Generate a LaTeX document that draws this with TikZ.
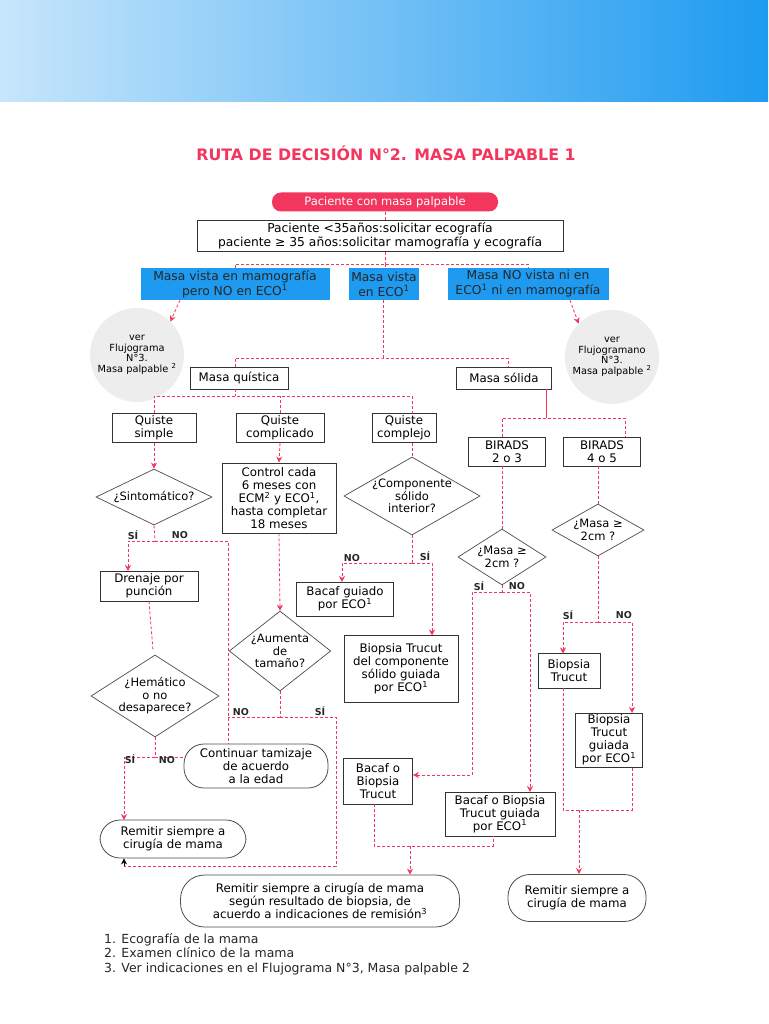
\documentclass[tikz,border=0pt]{standalone}
\usepackage{fontspec}
\setmainfont{DejaVu Sans}
\usetikzlibrary{shapes.geometric,arrows.meta}
\definecolor{pk}{HTML}{F2365E}
\definecolor{bl}{HTML}{1E9BF0}
\definecolor{gr}{HTML}{EDEDED}
\tikzset{
 box/.style={draw=black!80,line width=0.9pt,fill=white,align=center,inner sep=1pt,font=\fontsize{11.8}{13}\selectfont},
 blue/.style={fill=bl,align=center,inner sep=1pt,text=black!85,font=\fontsize{12.3}{15}\selectfont},
 pill/.style={draw=black!70,line width=0.8pt,fill=white,rounded corners=20pt,align=center,inner sep=1pt,font=\fontsize{11.8}{13}\selectfont},
 dia/.style={draw=black!70,line width=0.7pt,fill=white,diamond,aspect=2,align=center,inner sep=-4pt,font=\fontsize{11.5}{12.5}\selectfont},
 circ/.style={circle,fill=gr,align=center,inner sep=0pt,minimum size=94pt,font=\fontsize{9.8}{10.5}\selectfont},
 ln/.style={draw=pk,dashed,line width=0.8pt,dash pattern=on 3pt off 2pt},
 ar/.style={ln,-{Stealth[length=6pt,width=6pt]}},
 lab/.style={font=\bfseries\fontsize{9.5}{10}\selectfont,text=black!85}
}
\begin{document}
\begin{tikzpicture}[x=1pt,y=-1pt]
\useasboundingbox (0,0) rectangle (768,1024);
\shade[left color=bl!25,right color=bl] (0,0) rectangle (768,102);
\node[font=\bfseries\fontsize{15.8}{18}\selectfont,text=pk] (t) at (386,153) {RUTA DE DECISIÓN N°2. MASA PALPABLE 1};

\node[pill,draw=none,fill=pk,text=white,minimum width=226pt,minimum height=19pt,rounded corners=9pt,font=\fontsize{11.5}{13}\selectfont] (p) at (385,202) {Paciente con masa palpable};
\node[box,minimum width=366pt,minimum height=31pt,font=\fontsize{12.3}{14.5}\selectfont] (b2) at (380,236) {Paciente <35años:solicitar ecografía\\paciente ≥ 35 años:solicitar mamografía y ecografía};
\node[blue,minimum width=189pt,minimum height=32pt] (m1) at (235,284) {Masa vista en mamografía\\pero NO en ECO\textsuperscript{1}};
\node[blue,minimum width=70pt,minimum height=32pt] (m2) at (384,284) {Masa vista\\en ECO\textsuperscript{1}};
\node[blue,minimum width=161pt,minimum height=32pt] (m3) at (528,284) {Masa NO vista ni en\\ECO\textsuperscript{1} ni en mamografía};
\node[circ] (c1) at (137,355) {ver\\Flujograma\\N°3.\\Masa palpable \textsuperscript{2}};
\node[circ] (c2) at (612,357) {ver\\Flujogramano\\N°3.\\Masa palpable \textsuperscript{2}};

\node[box,minimum width=98pt,minimum height=22pt] (mq) at (239,378) {Masa quística};
\node[box,minimum width=95pt,minimum height=22pt] (ms) at (504,378) {Masa sólida};
\node[box,minimum width=84pt,minimum height=29pt] (qs) at (154,428) {Quiste\\simple};
\node[box,minimum width=88pt,minimum height=29pt] (qc) at (280,428) {Quiste\\complicado};
\node[box,minimum width=64pt,minimum height=29pt] (qx) at (404,428) {Quiste\\complejo};
\node[box,minimum width=77pt,minimum height=29pt] (b23) at (507,452) {BIRADS\\2 o 3};
\node[box,minimum width=77pt,minimum height=29pt] (b45) at (602,452) {BIRADS\\4 o 5};

\node[dia,minimum width=116pt,minimum height=56pt] (sin) at (154,497) {¿Sintomático?};
\node[box,minimum width=114pt,minimum height=70pt] (ctl) at (279,498) {Control cada\\6 meses con\\ECM\textsuperscript{2} y ECO\textsuperscript{1},\\hasta completar\\18 meses};
\node[dia,minimum width=136pt,minimum height=78pt] (cmp) at (412,496) {¿Componente\\sólido\\interior?};
\node[dia,minimum width=88pt,minimum height=56pt] (d23) at (502,557) {¿Masa ≥\\2cm ?};
\node[dia,minimum width=92pt,minimum height=52pt] (d45) at (598,530) {¿Masa ≥\\2cm ?};

\node[box,minimum width=98pt,minimum height=30pt] (dre) at (149,586) {Drenaje por\\punción};
\node[box,minimum width=97pt,minimum height=34pt] (bg) at (345,599) {Bacaf guiado\\por ECO\textsuperscript{1}};
\node[box,minimum width=114pt,minimum height=67pt] (bt) at (401,669) {Biopsia Trucut\\del componente\\sólido guiada\\por ECO\textsuperscript{1}};
\node[dia,minimum width=94pt,minimum height=80pt] (aum) at (280,651) {¿Aumenta\\de\\tamaño?};
\node[dia,minimum width=128pt,minimum height=82pt] (hem) at (155,696) {¿Hemático\\o no\\desaparece?};
\node[box,minimum width=62pt,minimum height=35pt] (btr) at (569,671) {Biopsia\\Trucut};
\node[box,minimum width=67pt,minimum height=54pt] (btg) at (609,740) {Biopsia\\Trucut\\guiada\\por ECO\textsuperscript{1}};
\node[pill,minimum width=144pt,minimum height=44pt] (cont) at (256,766) {Continuar tamizaje\\de acuerdo\\a la edad};
\node[box,minimum width=69pt,minimum height=46pt] (bo) at (378,781) {Bacaf o\\Biopsia\\Trucut};
\node[box,minimum width=110pt,minimum height=44pt] (bog) at (500,814) {Bacaf o Biopsia\\Trucut guiada\\por ECO\textsuperscript{1}};
\node[pill,minimum width=146pt,minimum height=38pt] (r1) at (173,839) {Remitir siempre a\\cirugía de mama};
\node[pill,minimum width=279pt,minimum height=52pt,rounded corners=24pt] (r2) at (320,901) {Remitir siempre a cirugía de mama\\según resultado de biopsia, de\\acuerdo a indicaciones de remisión\textsuperscript{3}};
\node[pill,minimum width=138pt,minimum height=47pt,rounded corners=22pt] (r3) at (577,898) {Remitir siempre a\\cirugía de mama};

\node[anchor=north west,align=left,inner sep=0pt,font=\fontsize{12.5}{14.5}\selectfont,text=black!85] (fn) at (104,933) {1. Ecografía de la mama\\2. Examen clínico de la mama\\3. Ver indicaciones en el Flujograma N°3, Masa palpable 2};

% connectors
\draw[ln] (p.south) -- (p.south |- b2.north);
\draw[ln] (b2.south -| p.south) -- ++(0,12) coordinate (j1);
\draw[ln] (m1.north) |- (j1) -| (m3.north);
\draw[ln] (j1) -- (j1 |- m2.north);
\draw[ar] ([xshift=-55pt]m1.south) -- (c1.45);
\draw[ar] ([xshift=42pt]m3.south) -- (c2.135);
\coordinate (j2) at (383,358);
\draw[ln] (m2.south -| j2) -- (j2);
\draw[ln] (235,367) |- (j2) -| (508,367);
\coordinate (j3) at (235,396);
\draw[ln] (mq.south -| j3) -- (j3);
\draw[ln] (qs.north) |- (j3) -| (412,414);
\draw[ln] (qc.north) -- (qc.north |- j3);
\draw[pk,line width=0.8pt] (546,389) -- (546,418) coordinate (j4);
\draw[ln] (502,437) |- (j4) -| (625,437);

\draw[ar] (qs.south) -- (sin.north);
\draw[ar] (qc.south) -- (ctl.north);
\draw[ln] (412,443) -- (cmp.north);

\draw[ln] (sin.south) -- (155,541) coordinate (j5);
\draw[ar] (j5) -| (128,571);
\draw[ln] (j5) -| (228,744);
\node[lab] (ls1) at (133,535) {SÍ};
\node[lab] (ln1) at (180,535) {NO};

\draw[ln] (dre.south) -- (153,650) coordinate (j6);
\draw[ar] (ctl.south) -- (aum.north);
\draw[ln] (aum.south) -- (280,717) coordinate (j7);
\draw[ln] (j7) -- (228,717);
\node[lab] (ln2) at (241,712) {NO};
\node[lab] (ls2) at (320,711) {SÍ};
\coordinate (j8) at (124,866);
\draw[ln] (j7) -| (336,866) -- (j8);
\draw[black,-{Stealth[length=6pt,width=6pt]},line width=0.8pt] (j8) -- (r1.south -| j8);

\draw[ln] (hem.south) -- (155,757) coordinate (j9);
\draw[ln] (j9) -- (cont.west |- j9);
\draw[ar] (j9) -| (124,820);
\node[lab] (ls3) at (130,759) {SÍ};
\node[lab] (ln3) at (167,760) {NO};

\draw[ln] (cmp.south) -- (412,563) coordinate (j10);
\draw[ar] (j10) -| (342,582);
\draw[ar] (j10) -| (432,635.5);
\node[lab] (ln4) at (352,558) {NO};
\node[lab] (ls4) at (425,556) {SÍ};

\draw[ln] (502,466) -- (d23.north);
\draw[ln] (d23.south) -- (502,592) coordinate (j11);
\draw[ar] (j11) -| (472,775) -- (bo.east |- 0,775);
\draw[ar] (j11) -| (530,792);
\node[lab] (ls5) at (479,586) {SÍ};
\node[lab] (ln5) at (517,586) {NO};

\draw[ln] (598,466) -- (d45.north);
\draw[ln] (d45.south) -- (598,622) coordinate (j12);
\draw[ar] (j12) -| (563,653.5);
\draw[ar] (j12) -| (632,713);
\node[lab] (ls6) at (568,615) {SÍ};
\node[lab] (ln6) at (624,615) {NO};

\coordinate (j13) at (579,810);
\draw[ln] (563,688) |- (j13) -| (632,767);
\draw[ar] (j13) -- (r3.north -| j13);
\coordinate (j14) at (410,846);
\draw[ln] (374,804) |- (j14) -| (493,836);
\draw[ar] (j14) -- (r2.north -| j14);
\end{tikzpicture}
\end{document}
